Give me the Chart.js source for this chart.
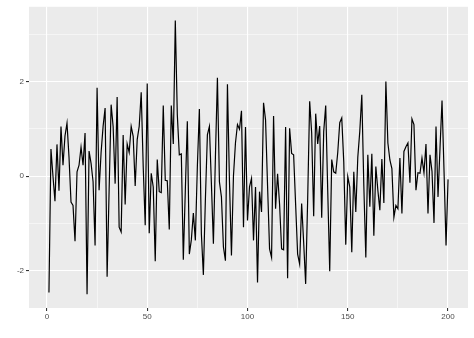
<!DOCTYPE html>
<html>
<head>
<meta charset="utf-8">
<script src="https://cdn.jsdelivr.net/npm/chart.js@4.4.1/dist/chart.umd.min.js"></script>
<style>
  html, body { margin: 0; padding: 0; background: #ffffff; }
  #wrap { width: 474px; height: 338px; }
</style>
</head>
<body>
<div id="wrap"><canvas id="chart" width="474" height="338"></canvas></div>
<script>
// series values, index 1..200
const values = [
  -2.46, 0.57, 0.0, -0.53, 0.67, -0.31, 1.05, 0.23, 0.85, 1.12,
  0.4, -0.55, -0.62, -1.38, 0.09, 0.23, 0.61, 0.23, 0.91, -2.5,
  0.53, 0.27, -0.12, -1.47, 1.87, -0.3, 0.5, 1.05, 1.44, -2.13,
  -0.3, 1.51, 1.05, -0.16, 1.67, -1.08, -1.18, 0.87, -0.6, 0.68,
  0.5, 1.05, 0.84, -0.21, 0.77, 1.05, 1.77, 0.2, -1.04, 1.96,
  -1.21, 0.06, -0.23, -1.8, 0.35, -0.33, -0.35, 1.49, -0.09, -0.1,
  -1.13, 1.49, 0.68, 3.29, 1.3, 0.45, 0.47, -1.77, -0.3, 1.16,
  -1.65, -1.35, -0.78, -1.36, 0.2, 1.42, -1.22, -2.09, -0.5, 0.87,
  1.05, -0.16, -1.43, 0.4, 2.08, -0.12, -0.44, -1.5, -1.79, 1.94,
  -0.1, -1.68, 0.0, 0.7, 1.09, 0.99, 1.38, -1.08, 1.04, -0.94,
  -0.23, -0.05, -1.36, -0.23, -2.25, -0.33, -0.76, 1.55, 1.19, -0.2,
  -1.54, -1.72, 1.27, -0.69, 0.05, -0.6, -1.54, -1.56, 1.04, -2.16,
  1.01, 0.48, 0.45, -0.6, -1.65, -1.86, -0.58, -1.4, -2.28, -0.5,
  1.58, 0.91, -0.85, 1.32, 0.68, 1.06, -0.88, 0.94, 1.49, -0.3,
  -2.01, 0.35, 0.09, 0.06, 0.5, 1.13, 1.23, 0.3, -1.45, -0.01,
  -0.23, -1.61, 0.09, -0.76, 0.4, 0.95, 1.72, -0.2, -1.72, 0.45,
  -0.65, 0.47, -1.26, 0.2, -0.3, -0.72, 0.36, -0.57, 2.0, 0.7,
  0.34, 0.16, -0.87, -0.62, -0.69, 0.38, -0.79, 0.52, 0.62, 0.7,
  -0.14, 1.21, 1.09, -0.3, 0.07, 0.06, 0.38, 0.07, 0.68, -0.79,
  0.45, 0.1, -0.99, 1.05, -0.44, 0.6, 1.6, 0.1, -1.47, -0.07
];
const index = values.map((v, i) => i + 1);

// axis ticks (major get labels, minor are grid only)
const xMajor = [0, 50, 100, 150, 200];
const xMinor = [25, 75, 125, 175];
const yMajor = [-2, 0, 2];
const yMinor = [-1, 1, 3];

const xRange = [-8.95, 209.95];
const yRange = [-2.79, 3.58];

const panelBg = {
  id: "panelBg",
  beforeDraw(chart) {
    const { ctx, chartArea: a } = chart;
    ctx.save();
    ctx.fillStyle = "#EBEBEB";
    ctx.fillRect(a.left, a.top, a.right - a.left, a.bottom - a.top);
    ctx.restore();
  }
};

function gridTicks(major, minor) {
  return major.concat(minor).sort((a, b) => a - b).map(v => ({ value: v }));
}

const labelFont = { family: "Liberation Sans", size: 8 };

new Chart(document.getElementById("chart"), {
  type: "line",
  data: {
    datasets: [{
      data: index.map((x, i) => ({ x: x, y: values[i] })),
      borderColor: "#000000",
      borderWidth: 1.2,
      pointRadius: 0,
      tension: 0,
      fill: false
    }]
  },
  options: {
    responsive: false,
    animation: false,
    layout: { padding: { left: 0, right: 6, top: 5, bottom: 0 } },
    plugins: { legend: { display: false }, tooltip: { enabled: false } },
    scales: {
      x: {
        type: "linear",
        min: xRange[0],
        max: xRange[1],
        afterBuildTicks: s => { s.ticks = gridTicks(xMajor, xMinor); },
        afterFit: s => { s.height = 30; },
        border: { display: false },
        grid: {
          color: "#FFFFFF",
          lineWidth: c => (xMajor.includes(c.tick.value) ? 1.1 : 0.5),
          tickColor: c => (xMajor.includes(c.tick.value) ? "#333333" : "rgba(0,0,0,0)"),
          tickLength: 3
        },
        ticks: {
          autoSkip: false,
          maxRotation: 0,
          padding: 1,
          color: "#4D4D4D",
          font: labelFont,
          callback: v => (xMajor.includes(v) ? String(v) : "")
        }
      },
      y: {
        type: "linear",
        min: yRange[0],
        max: yRange[1],
        afterBuildTicks: s => { s.ticks = gridTicks(yMajor, yMinor); },
        afterFit: s => { s.width = 29; },
        border: { display: false },
        grid: {
          color: "#FFFFFF",
          lineWidth: c => (yMajor.includes(c.tick.value) ? 1.1 : 0.5),
          tickColor: c => (yMajor.includes(c.tick.value) ? "#333333" : "rgba(0,0,0,0)"),
          tickLength: 3
        },
        ticks: {
          autoSkip: false,
          padding: 2,
          color: "#4D4D4D",
          font: labelFont,
          callback: v => (yMajor.includes(v) ? String(v) : "")
        }
      }
    }
  },
  plugins: [panelBg]
});
</script>
</body>
</html>
